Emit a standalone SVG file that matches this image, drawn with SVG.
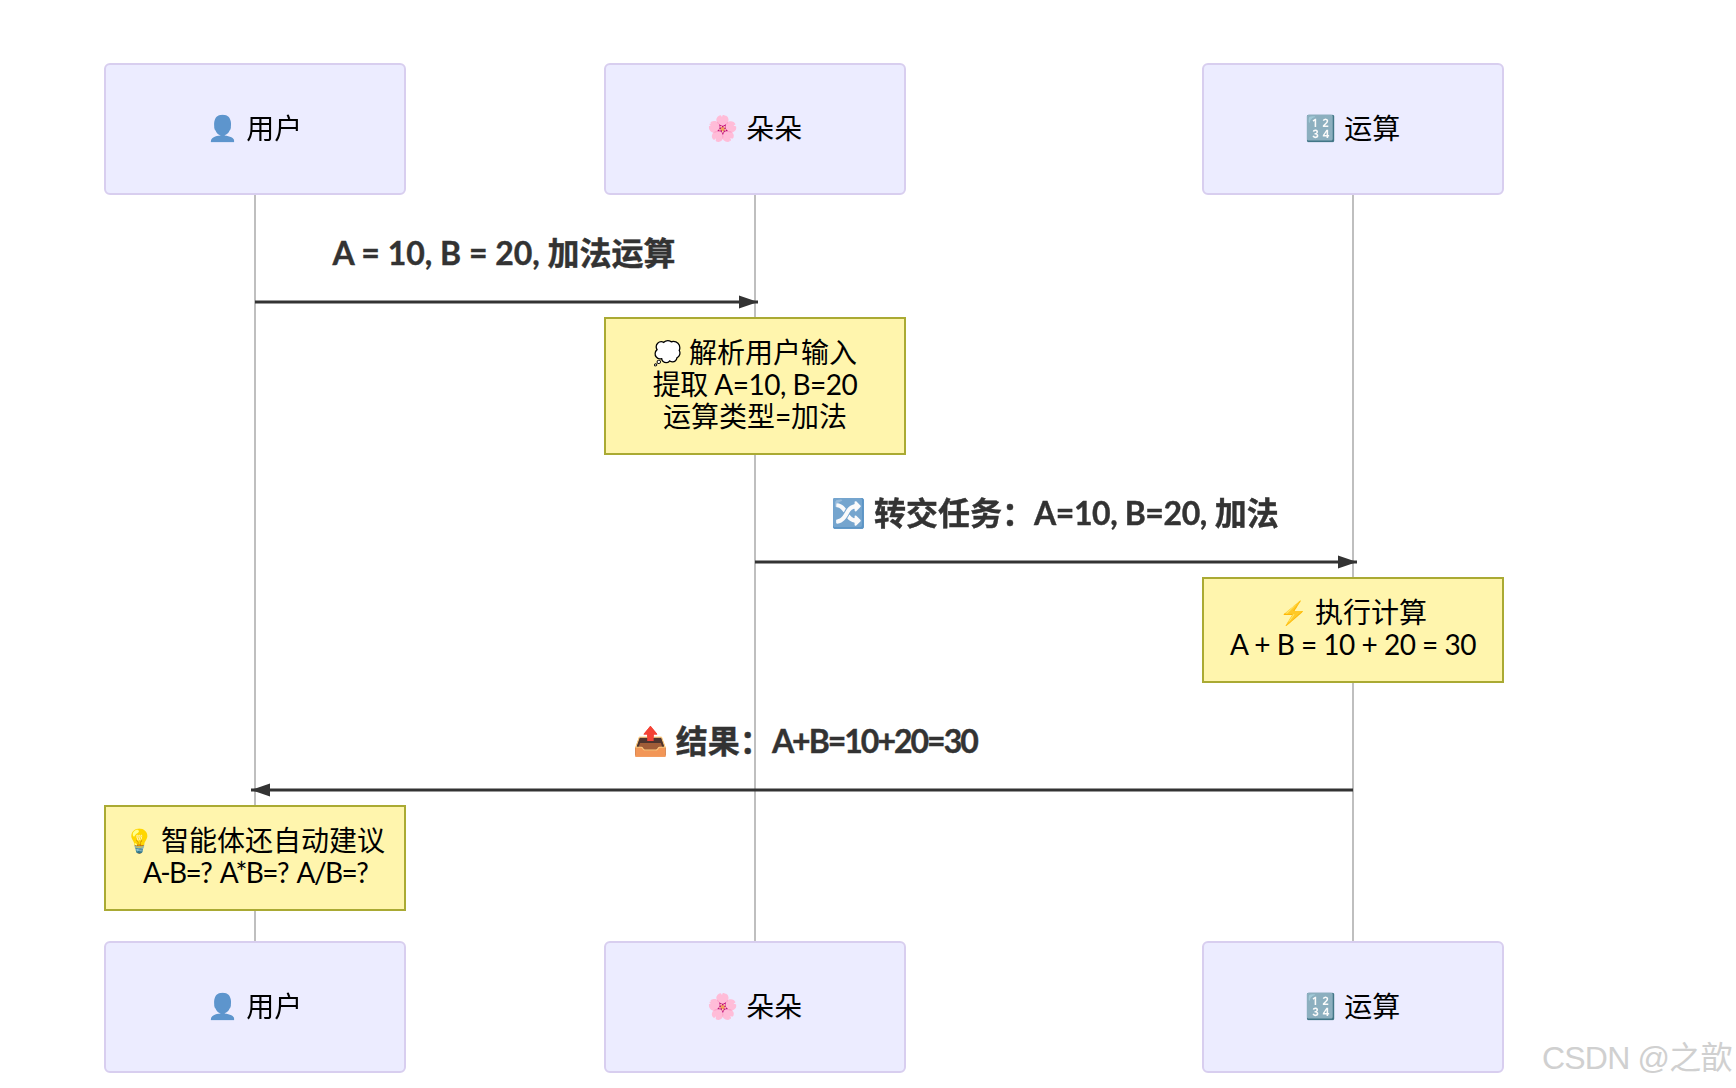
<svg xmlns="http://www.w3.org/2000/svg" width="1736" height="1088" viewBox="0 0 1736 1088">
<defs>
<marker id="ah" markerUnits="userSpaceOnUse" markerWidth="20" markerHeight="14" refX="19" refY="7" orient="auto-start-reverse"><path d="M0 0.5L19 7L0 13.5z" fill="#333"/></marker>
<filter id="slate" x="-5%" y="-5%" width="110%" height="110%" color-interpolation-filters="sRGB"><feColorMatrix type="saturate" values="0.45"/><feComponentTransfer><feFuncR type="linear" slope="1.35"/><feFuncG type="linear" slope="1.35"/><feFuncB type="linear" slope="1.35"/></feComponentTransfer></filter>
<filter id="blue" x="-5%" y="-5%" width="110%" height="110%" color-interpolation-filters="sRGB"><feColorMatrix type="hueRotate" values="182"/><feColorMatrix type="saturate" values="0.5"/></filter>
</defs>
<style>
text{font-family:"Lato","Noto Sans CJK SC","Noto Color Emoji",sans-serif;text-anchor:middle}
.actor{fill:#ECECFF;stroke:#D8CEEF;stroke-width:2}
.note{fill:#FFF5AD;stroke:#AAAA33;stroke-width:2}
.life{stroke:#B8B8B8;stroke-width:1.8;fill:none}
.msg{stroke:#333;stroke-width:3;fill:none}
.at{font-size:28px;fill:#000}
.nt{font-size:28px;fill:#000}
.mt{font-size:32px;font-weight:700;fill:#333;stroke:#333;stroke-width:.4}
.ea{font-size:25px}
.en{font-size:23px}
.em{font-size:28px}
.wm{font-size:32px;fill:#d0d0d0;text-anchor:start;letter-spacing:-.8px;font-family:"Liberation Sans","Noto Sans CJK SC",sans-serif}
</style>
<rect width="1736" height="1088" fill="#fff"/>
<g id="connectors">
<path class="life" d="M255 194V942"/>
<path class="life" d="M755 194V942"/>
<path class="life" d="M1353 194V942"/>
<path class="msg" marker-end="url(#ah)" d="M255 302H758"/>
<path class="msg" marker-end="url(#ah)" d="M755 562H1357"/>
<path class="msg" marker-end="url(#ah)" d="M1353 790H251"/>
</g>
<g id="actor-user-top"><rect class="actor" x="105" y="64" width="300" height="130" rx="5"/><text class="at" x="255" y="139" filter="url(#slate)"><tspan class="ea" dy="-2">👤</tspan><tspan dy="2"> 用户</tspan></text></g>
<g id="actor-duoduo-top"><rect class="actor" x="605" y="64" width="300" height="130" rx="5"/><text class="at" x="755" y="139"><tspan class="ea" dy="-2">🌸</tspan><tspan dy="2"> 朵朵</tspan></text></g>
<g id="actor-calc-top"><rect class="actor" x="1203" y="64" width="300" height="130" rx="5"/><text class="at" x="1353" y="139"><tspan class="ea" dy="-2">🔢</tspan><tspan dy="2"> 运算</tspan></text></g>
<g id="label-1"><text class="mt" x="504" y="265">A = 10, B = 20, 加法运算</text></g>
<g id="note-1"><rect class="note" x="605" y="318" width="300" height="136"/><text class="nt" x="755" y="363"><tspan class="en" dy="-2">💭</tspan><tspan dy="2"> 解析用户输入</tspan></text><text class="nt" x="755" y="395" letter-spacing="-.5">提取 A=10, B=20</text><text class="nt" x="755" y="427">运算类型=加法</text></g>
<g id="label-2"><text class="mt" x="1055" y="525" filter="url(#blue)"><tspan class="em" dy="-2">🔀</tspan><tspan dy="2"> 转交任务：</tspan><tspan letter-spacing="-.4">A=10, B=20,</tspan> 加法</text></g>
<g id="note-2"><rect class="note" x="1203" y="578" width="300" height="104"/><text class="nt" x="1353" y="623"><tspan class="en" dy="-2">⚡</tspan><tspan dy="2"> 执行计算</tspan></text><text class="nt" x="1353" y="655" letter-spacing="-.5">A + B = 10 + 20 = 30</text></g>
<g id="label-3"><text class="mt" x="805" y="753"><tspan class="em" dy="-2">📤</tspan><tspan dy="2"> 结果：</tspan><tspan letter-spacing="-2">A+B=10+20=30</tspan></text></g>
<g id="note-3"><rect class="note" x="105" y="806" width="300" height="104"/><text class="nt" x="255" y="851"><tspan class="en" dy="-2">💡</tspan><tspan dy="2"> 智能体还自动建议</tspan></text><text class="nt" x="255" y="883" letter-spacing="-1.6" word-spacing="4">A-B=? A*B=? A/B=?</text></g>
<g id="actor-user-bottom"><rect class="actor" x="105" y="942" width="300" height="130" rx="5"/><text class="at" x="255" y="1017" filter="url(#slate)"><tspan class="ea" dy="-2">👤</tspan><tspan dy="2"> 用户</tspan></text></g>
<g id="actor-duoduo-bottom"><rect class="actor" x="605" y="942" width="300" height="130" rx="5"/><text class="at" x="755" y="1017"><tspan class="ea" dy="-2">🌸</tspan><tspan dy="2"> 朵朵</tspan></text></g>
<g id="actor-calc-bottom"><rect class="actor" x="1203" y="942" width="300" height="130" rx="5"/><text class="at" x="1353" y="1017"><tspan class="ea" dy="-2">🔢</tspan><tspan dy="2"> 运算</tspan></text></g>
<text class="wm" x="1542" y="1069">CSDN @之歆</text>
</svg>
